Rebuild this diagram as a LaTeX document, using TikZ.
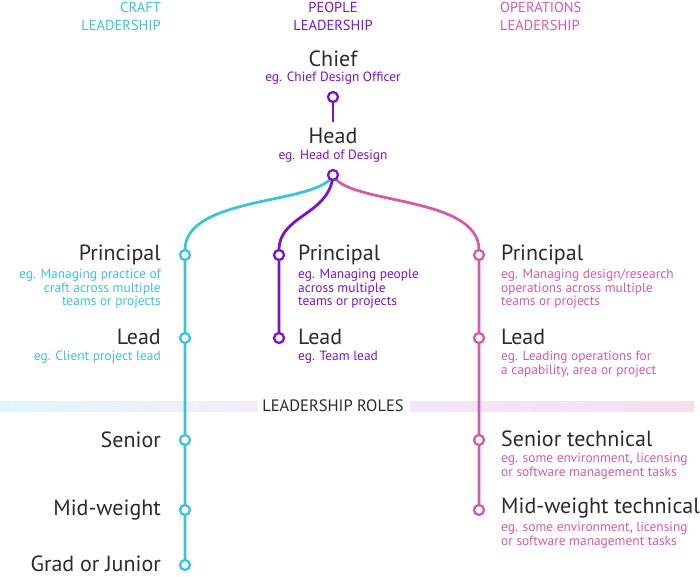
\documentclass[tikz,border=0pt]{standalone}
\usepackage{fontspec}
\setmainfont{PT Sans}
\definecolor{cy}{HTML}{3CC3DA}
\definecolor{pu}{HTML}{7A14C4}
\definecolor{pk}{HTML}{D45BA8}
\definecolor{tx}{HTML}{2A2A2A}
\begin{document}
\begin{tikzpicture}[x=1pt,y=-1pt,
 dot/.style={circle,draw=#1,line width=2.3pt,fill=white,inner sep=0pt,minimum size=10pt},
 ln/.style={draw=#1,line width=2.8pt},
 ttl/.style={font=\fontsize{22}{24}\selectfont,text=tx,inner sep=0pt},
 sub/.style={font=\fontsize{13.4}{13.4}\selectfont,text=#1,inner sep=0pt,align=left},
 hdr/.style={font=\fontsize{14.5}{17.5}\selectfont,text=#1,inner sep=0pt}]
\useasboundingbox (0,0) rectangle (700,577);
% band
\shade[left color=cy!15, right color=pu!8] (0,401) rectangle (258,411);
\shade[left color=pu!10, right color=pk!20] (410,401) rectangle (694,411);
\node[font=\fontsize{16.5}{18}\selectfont,text=tx,inner sep=0pt] (band) at (333,406) {LEADERSHIP ROLES};
% headers
\node[hdr=cy,align=right,anchor=north east] (hc) at (161,2) {CRAFT\\LEADERSHIP};
\node[hdr=pu,align=center,anchor=north] (hp) at (333,2) {PEOPLE\\LEADERSHIP};
\node[hdr=pk,align=left,anchor=north west] (ho) at (500,2) {OPERATIONS\\LEADERSHIP};
% coordinates
\coordinate (top) at (333,122);
\coordinate (cend) at (185,566);
% lines
\draw[ln=cy] (333,175) .. controls (320,205) and (185,195) .. (185,250) -- (cend);
\draw[ln=pk] (333,175) .. controls (346,205) and (479,195) .. (479,250) -- (479,510);
\draw[ln=pu] (333,175) .. controls (330,215) and (279,215) .. (279,250) -- (279,338);
\draw[ln=pu] (333,97) -- (top);
% dots
\node[dot=pu] (d0) at (333,97) {};
\node[dot=pu] (d1) at (333,175) {};
\foreach \y/\n in {255/a,338/b,440/c,510/d,565/e}{\node[dot=cy] (c\n) at (185,\y) {};}
\foreach \y/\n in {255/a,338/b}{\node[dot=pu] (p\n) at (279,\y) {};}
\foreach \y/\n in {255/a,338/b,440/c,510/d}{\node[dot=pk] (o\n) at (479,\y) {};}
% center
\node[ttl] (chief) at (333,59) {Chief};
\node[sub=pu] (chiefs) at (333,78) {eg. Chief Design Officer};
\node[ttl] (head) at (333,136) {Head};
\node[sub=pu] (heads) at (333,156) {eg. Head of Design};
% craft
\node[ttl,anchor=east] (cp) at (161,255) {Principal};
\node[sub=cy,align=right,anchor=north east] (cps) at (161,269) {eg. Managing practice of\\craft across multiple\\teams or projects};
\node[ttl,anchor=east] (cl) at (161,337) {Lead};
\node[sub=cy,anchor=north east] (cls) at (161,351) {eg. Client project lead};
\node[ttl,anchor=east] (cs) at (161,440) {Senior};
\node[ttl,anchor=east] (cm) at (161,510) {Mid-weight};
\node[ttl,anchor=east] (cg) at (161,564) {Grad or Junior};
% people
\node[ttl,anchor=west] (pp) at (298,255) {Principal};
\node[sub=pu,anchor=north west] (pps) at (298,269) {eg. Managing people\\across multiple\\teams or projects};
\node[ttl,anchor=west] (pl) at (298,337) {Lead};
\node[sub=pu,anchor=north west] (pls) at (298,351) {eg. Team lead};
% ops
\node[ttl,anchor=west] (op) at (501,255) {Principal};
\node[sub=pk,anchor=north west] (ops) at (501,269) {eg. Managing design/research\\operations across multiple\\teams or projects};
\node[ttl,anchor=west] (ol) at (501,337) {Lead};
\node[sub=pk,anchor=north west] (ols) at (501,351) {eg. Leading operations for\\a capability, area or project};
\node[ttl,anchor=west] (os) at (501,439) {Senior technical};
\node[sub=pk,anchor=north west] (oss) at (501,453) {eg. some environment, licensing\\or software management tasks};
\node[ttl,anchor=west] (om) at (501,508) {Mid-weight technical};
\node[sub=pk,anchor=north west] (oms) at (501,522) {eg. some environment, licensing\\or software management tasks};
\end{tikzpicture}
\end{document}
